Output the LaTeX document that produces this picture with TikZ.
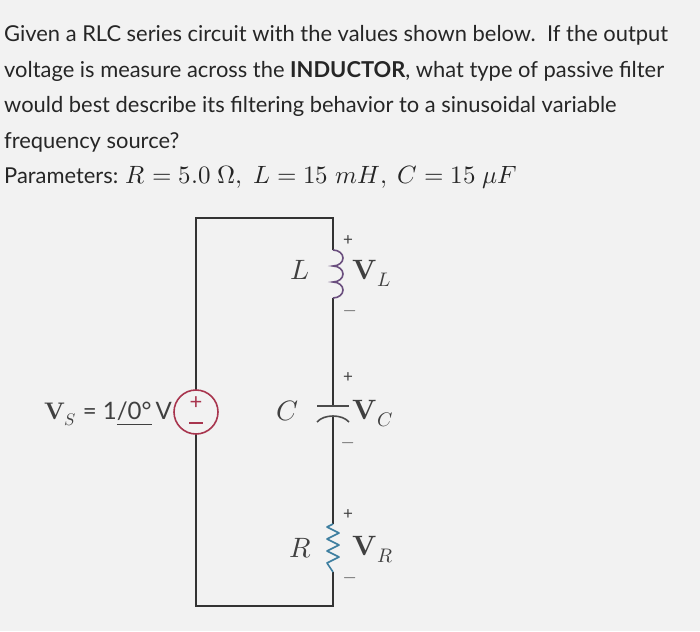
\documentclass[tikz,border=0pt]{standalone}
\usepackage{fontspec}
\setmainfont{Lato}
\usepackage{unicode-math}
\setmathfont{Latin Modern Math}
\begin{document}
\begin{tikzpicture}[x=1pt,y=-1pt,
  txt/.style={anchor=west,inner sep=0pt,font=\fontsize{21.9}{24}\selectfont,text=black!85},
  wire/.style={draw=black!80,line width=1.6pt},
  sgn/.style={font=\fontsize{17}{18}\selectfont,text=black!75,inner sep=0pt},
  lbl/.style={font=\fontsize{28}{30}\selectfont,text=black!75,inner sep=0pt}]
\definecolor{srcred}{HTML}{A8354E}
\definecolor{indc}{HTML}{6A4E7E}
\definecolor{resc}{HTML}{3E7FA0}
\fill[black!5] (0,0) rectangle (700,631);
\useasboundingbox (0,0) rectangle (700,631);
\node[txt] (t1) at (4,35) {Given a RLC series circuit with the values shown below.\ \ If the output};
\node[txt] (t2) at (4,71) {voltage is measure across the \textbf{INDUCTOR}, what type of passive filter};
\node[txt] (t3) at (4,106) {would best describe its filtering behavior to a sinusoidal variable};
\node[txt] (t4) at (4,142) {frequency source?};
\node[txt] (t5) at (4,177) {Parameters: {\fontsize{25}{26}\selectfont $R=5.0\;\Omega,\ L=15\;mH,\ C=15\;\mu F$}};
% corners
\coordinate (tl) at (196,218);
\coordinate (tr) at (333,218);
\coordinate (bl) at (196,606);
\coordinate (br) at (333,606);
\coordinate (st) at (196,390);
\coordinate (sb) at (196,434);
\coordinate (lt) at (333,250);
\coordinate (lb) at (333,298);
\coordinate (ct) at (333,406);
\coordinate (cb) at (333,416);
\coordinate (rt) at (333,524);
\coordinate (rb) at (333,572);
\draw[wire] (st) -- (tl) -- (tr) -- (lt);
\draw[wire] (lb) -- (ct);
\draw[wire] (cb) -- (rt);
\draw[wire] (rb) -- (br) -- (bl) -- (sb);
% inductor
\draw[indc,line width=1.6pt] (lt) arc[start angle=-90,end angle=90,x radius=10,y radius=8]
  arc[start angle=-90,end angle=90,x radius=10,y radius=8]
  arc[start angle=-90,end angle=90,x radius=10,y radius=8];
% capacitor
\draw[black!70,line width=1.6pt] (317,406) -- (349,406);
\draw[black!70,line width=1.6pt] (317,422) .. controls (324,414) and (342,414) .. (349,422);
% resistor
\draw[resc,line width=1.6pt,line join=round] (rt) -- ++(-6,3) -- ++(12,6) -- ++(-12,6) -- ++(12,6) -- ++(-12,6) -- ++(12,6) -- ++(-12,6) -- (rb);
% source
\node[circle,draw=srcred,line width=1.6pt,minimum size=44pt,inner sep=0pt] (src) at (196,412) {};
\node[text=srcred,font=\fontsize{22}{22}\selectfont,inner sep=0pt] (sp) at (196,403) {+};
\draw[srcred,line width=1.4pt] (189,423) -- (203,423);
% labels
\node[lbl,anchor=east,font=\fontsize{24}{26}\selectfont] (vs) at (172,414) {$\symbf{V}_{S}$ = 1\underline{/0°}\,V};
\node[lbl] (L) at (300,270) {$L$};
\node[lbl] (VL) at (372,273) {$\symbf{V}_{L}$};
\node[sgn] (lp) at (348,241) {+};
\node[sgn] (lm) at (350,313) {$-$};
\node[lbl] (C) at (288,411) {$C$};
\node[lbl] (VC) at (373,414) {$\symbf{V}_{C}$};
\node[sgn] (cp) at (348,378) {+};
\node[sgn] (cm) at (348,445) {$-$};
\node[lbl] (R) at (300,548) {$R$};
\node[lbl] (VR) at (373,550) {$\symbf{V}_{R}$};
\node[sgn] (rp) at (348,515) {+};
\node[sgn] (rm) at (350,580) {$-$};
\end{tikzpicture}
\end{document}
